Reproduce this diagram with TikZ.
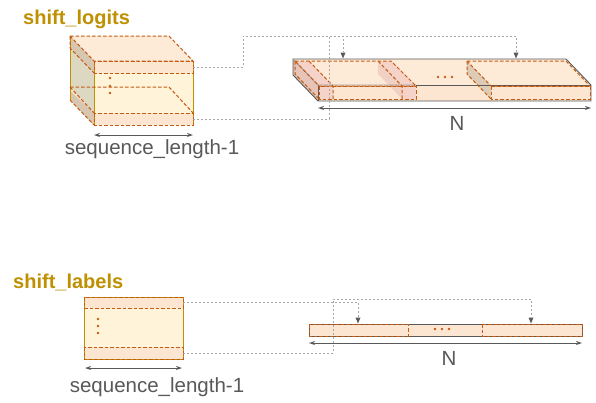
\documentclass[tikz,border=0pt]{standalone}
\usepackage{fontspec}
\setmainfont{Liberation Sans}
\usetikzlibrary{arrows.meta}
\definecolor{gold}{HTML}{BF9000}
\definecolor{txtgray}{HTML}{595959}
\definecolor{orng}{HTML}{C55A11}
\definecolor{peach}{HTML}{FCE6D2}
\definecolor{peachtop}{HTML}{FDEBD8}
\definecolor{yel}{HTML}{FFF3DA}
\definecolor{tan}{HTML}{D7C6B0}
\definecolor{sage}{HTML}{DDD8C2}
\definecolor{pinkc}{HTML}{F6D3C8}
\definecolor{pinkd}{HTML}{E8C3B8}
\definecolor{sidegray}{HTML}{D9BFB3}
\definecolor{conn}{HTML}{A6A6A6}
\tikzset{
  odash/.style={draw=orng, line width=1pt, dash pattern=on 3.5pt off 2pt},
  goldline/.style={draw=gold, line width=0.9pt},
  boxline/.style={draw=txtgray, line width=0.9pt},
  connline/.style={draw=conn, line width=0.7pt, dash pattern=on 2pt off 2pt},
  dimarrow/.style={draw=txtgray, line width=0.8pt, {Stealth[length=6pt,width=4pt,open]}-{Stealth[length=6pt,width=4pt,open]}},
  titletxt/.style={inner sep=0pt, anchor=base west, text=gold, font=\fontsize{20}{24}\selectfont\bfseries},
  dimtxt/.style={inner sep=0pt, anchor=base, text=txtgray, font=\fontsize{20.5}{24}\selectfont},
  dotc/.style={fill=orng, draw=none}
}
\begin{document}
\begin{tikzpicture}[x=1pt,y=-1pt]
\useasboundingbox (0,0) rectangle (596,402);
\fill[white] (0,0) rectangle (596,402);

% ---------- titles ----------
\node[titletxt] (t1) at (23,24.5) {shift\_logits};
\node[titletxt] (t2) at (13,288.5) {shift\_labels};

% ---------- cube ----------
\fill[peachtop] (70,36) -- (169,36) -- (193,61) -- (94,61) -- cycle;
\fill[yel] (94,61) rectangle (193,125);
\fill[peach] (94,61) rectangle (193,73);
\fill[peach] (94,113) rectangle (193,125);
\fill[tan] (70,36) -- (94,61) -- (94,73) -- (70,48) -- cycle;
\fill[sage] (70,48) -- (94,73) -- (94,113) -- (70,87) -- cycle;
\fill[peach!80!tan] (70,87) -- (94,113) -- (94,125) -- (70,100) -- cycle;
\fill[tan] (70,91) -- (94,113) -- (94,125) -- (70,100) -- cycle;
\draw[goldline] (70,36) -- (70,100);
\draw[goldline] (94,61) -- (94,125);
\draw[goldline] (193,61) -- (193,125);
\draw[odash] (70,36) -- (169,36) -- (193,61) -- (94,61) -- cycle;
\draw[odash] (94,61) rectangle (193,73);
\draw[odash] (70,36) -- (70,48) -- (94,73);
\draw[odash] (70,87) -- (169,87) -- (193,113);
\draw[odash] (94,113) rectangle (193,125);
\draw[odash] (70,87) -- (94,113);
\draw[odash] (70,100) -- (94,125);
\fill[dotc] (110,78) circle (1.4);
\fill[dotc] (110,86) circle (1.4);
\fill[dotc] (110,93) circle (1.4);
\coordinate (c1l) at (94,135);
\coordinate (c1r) at (193,135);
\draw[dimarrow] (c1l) -- (c1r);
\node[dimtxt] (d1) at (152,154.5) {sequence\_length-1};

% ---------- right flat box ----------
\fill[peachtop] (293,59) -- (566,59) -- (591,85) -- (318,85) -- cycle;
\fill[peach] (318,85) rectangle (591,101);
\fill[sidegray] (293,59) -- (318,85) -- (318,101) -- (293,75) -- cycle;
\fill[pinkc] (295,61) -- (309,61) -- (333,86) -- (319,86) -- cycle;
\fill[pinkd] (295,61) -- (319,86) -- (319,99) -- (295,74) -- cycle;
\fill[pinkc] (319,86) rectangle (333,99);
\fill[pinkc] (378,61) -- (392,61) -- (416,86) -- (402,86) -- cycle;
\fill[pinkc!85!tan] (378,61) -- (402,86) -- (402,99) -- (378,74) -- cycle;
\fill[pinkc] (402,86) rectangle (416,99);
\fill[tan!85!peach] (467,61) -- (491,86) -- (491,99) -- (467,74) -- cycle;
\draw[boxline] (293,59) -- (566,59) -- (591,85) -- (591,101) -- (318,101) -- (293,75) -- cycle;
\draw[boxline] (318,85) -- (318,101);
\draw[draw=txtgray!60, line width=0.8pt] (293,59) -- (318,85) -- (416,85);
\draw[boxline] (416,85) -- (591,85);
\draw[odash] (295,61) -- (391,61) -- (416,86) -- (319,86) -- cycle;
\draw[odash] (319,86) rectangle (416,99);
\draw[odash] (295,61) -- (295,74) -- (319,99);
\draw[odash] (309,61) -- (333,86) -- (333,99);
\draw[odash] (378,61) -- (402,86) -- (402,99);
\draw[odash] (467,61) -- (566,61) -- (590,86) -- (491,86) -- cycle;
\draw[odash] (491,86) rectangle (590,99);
\draw[odash] (467,61) -- (467,74) -- (491,99);
\fill[dotc] (438,77) circle (1.4);
\fill[dotc] (445,77) circle (1.4);
\fill[dotc] (452,77) circle (1.4);
\coordinate (r1l) at (318,108);
\coordinate (r1r) at (591,108);
\draw[dimarrow] (r1l) -- (r1r);
\node[dimtxt] (n1) at (457,130) {N};

% ---------- bottom left rect ----------
\fill[yel] (84,297) rectangle (183,359);
\fill[peach] (84,297) rectangle (183,308);
\fill[peach] (84,347) rectangle (183,359);
\draw[goldline] (84,297) rectangle (183,359);
\draw[odash] (84,297) rectangle (183,308);
\draw[odash] (84,347) rectangle (183,359);
\fill[dotc] (98,319) circle (1.4);
\fill[dotc] (98,326) circle (1.4);
\fill[dotc] (98,333) circle (1.4);
\coordinate (c2l) at (85,368);
\coordinate (c2r) at (182,368);
\draw[dimarrow] (c2l) -- (c2r);
\node[dimtxt] (d2) at (157,392.5) {sequence\_length-1};

% ---------- bottom bar ----------
\fill[peach] (309,324) rectangle (582,336);
\draw[boxline] (309,324) rectangle (582,336);
\draw[odash] (309,324) rectangle (408,336);
\draw[odash] (482,324) rectangle (582,336);
\fill[dotc] (435,329) circle (1.4);
\fill[dotc] (442,329) circle (1.4);
\fill[dotc] (449,329) circle (1.4);
\coordinate (r2l) at (309,343);
\coordinate (r2r) at (582,343);
\draw[dimarrow] (r2l) -- (r2r);
\node[dimtxt] (n2) at (449,365) {N};

% ---------- connectors ----------
\coordinate (a0) at (193,67);
\coordinate (a1) at (343,58.5);
\coordinate (b0) at (193,119);
\coordinate (b1) at (516,58.5);
\coordinate (c0) at (183,302);
\coordinate (cc1) at (358,323.5);
\coordinate (e0) at (183,353);
\coordinate (e1) at (531,323.5);
\draw[connline] (a0) -- (243,67) -- (243,36) -- (343,36) -- (343,52);
\draw[connline] (b0) -- (329,119) -- (329,36) -- (516,36) -- (516,52);
\draw[connline] (c0) -- (358,302) -- (358,317);
\draw[connline] (e0) -- (333,353) -- (333,299) -- (531,299) -- (531,317);
\fill[txtgray] (a1) -- ++(-2.5,-6) -- ++(5,0) -- cycle;
\fill[txtgray] (b1) -- ++(-2.5,-6) -- ++(5,0) -- cycle;
\fill[txtgray] (cc1) -- ++(-2.5,-6) -- ++(5,0) -- cycle;
\fill[txtgray] (e1) -- ++(-2.5,-6) -- ++(5,0) -- cycle;
\end{tikzpicture}
\end{document}
